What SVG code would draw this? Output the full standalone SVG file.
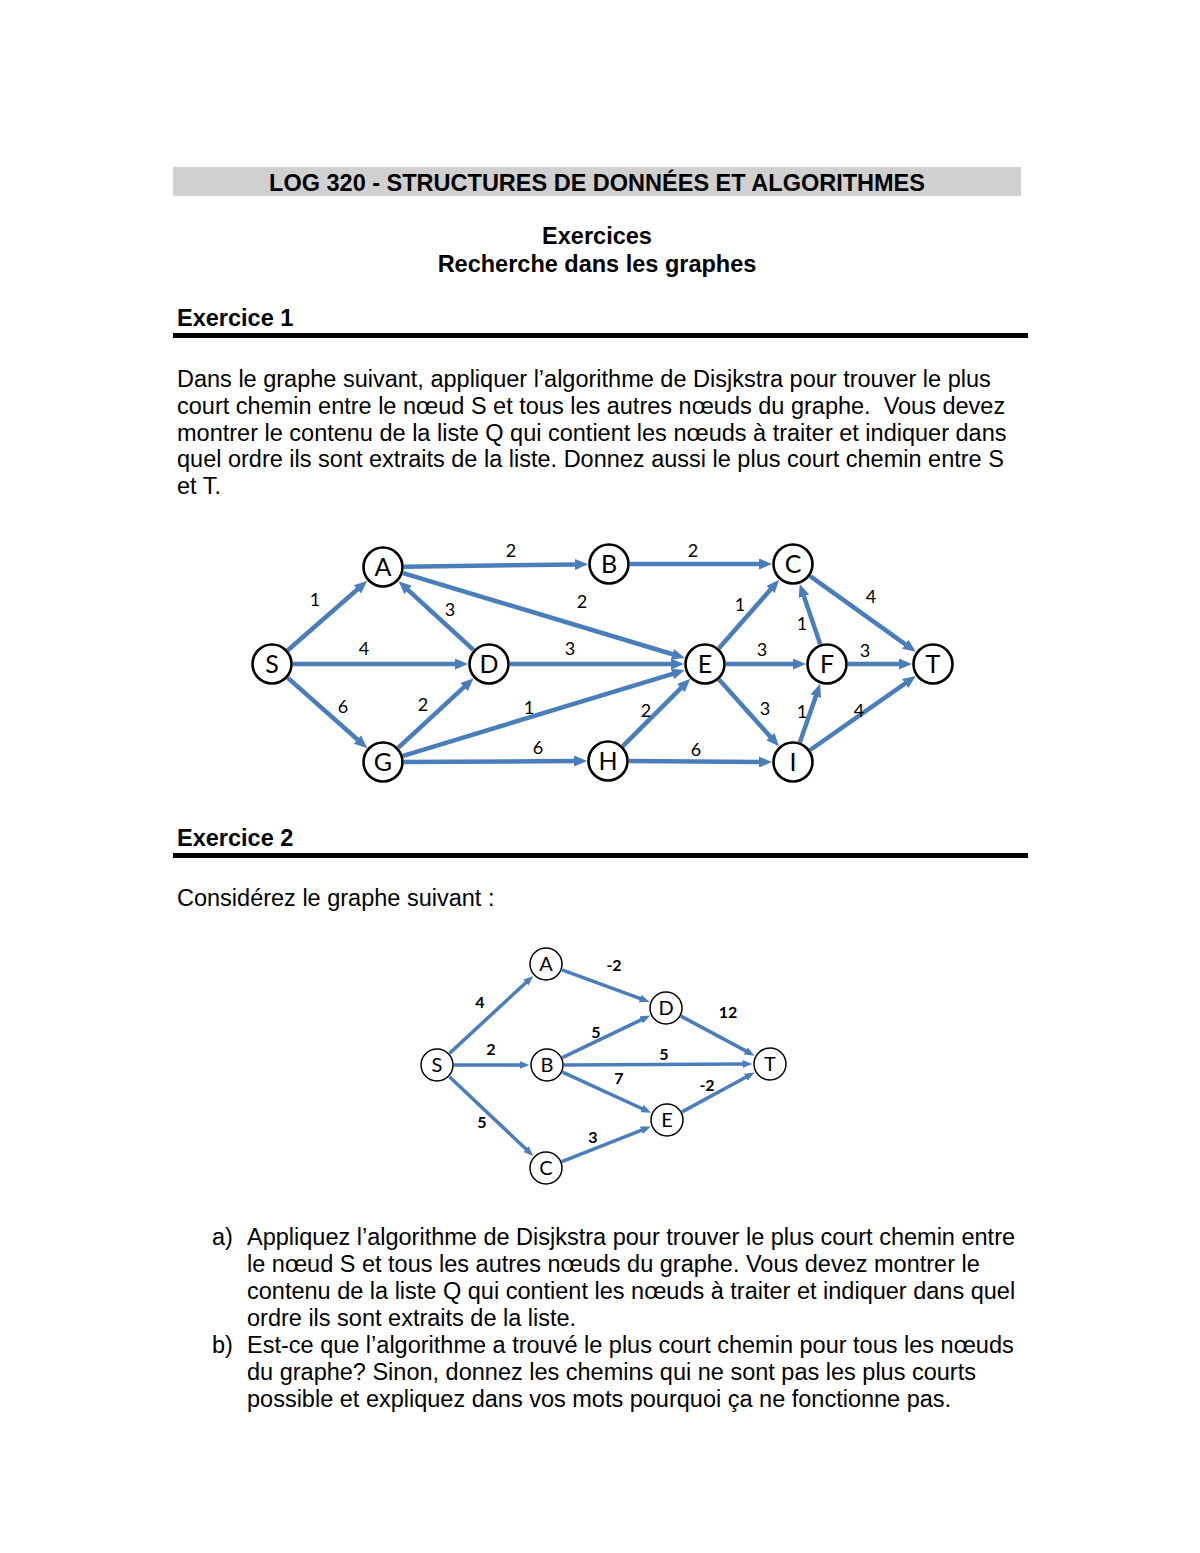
<svg xmlns="http://www.w3.org/2000/svg" width="1200" height="1553" viewBox="0 0 1200 1553">
<style>
.t{font-family:"Liberation Sans",Arial,sans-serif;font-size:23.5px;fill:#000;white-space:pre}
.b{font-weight:bold}
.e1{stroke:#4A7EBB;stroke-width:4.5;fill:none;marker-end:url(#ah1)}
.e2{stroke:#4A7EBB;stroke-width:3.5;fill:none;marker-end:url(#ah2)}
.n1{fill:#fff;stroke:#000;stroke-width:2.6}
.n2{fill:#fff;stroke:#000;stroke-width:1.5}
.nl1{font-family:Lato,"Open Sans",sans-serif;font-size:25px;text-anchor:middle;fill:#000}
.nl2{font-family:Lato,"Open Sans",sans-serif;font-size:20px;text-anchor:middle;fill:#000}
.w1{font-family:Lato,"Open Sans",sans-serif;font-size:18px;text-anchor:middle;fill:#000}
.w2{font-family:Lato,"Open Sans",sans-serif;font-size:16px;font-weight:bold;text-anchor:middle;fill:#000}
</style>
<defs>
<marker id="ah1" viewBox="0 0 13 11" markerWidth="13" markerHeight="11" refX="1" refY="5.5" orient="auto" markerUnits="userSpaceOnUse"><path d="M0,0 L13,5.5 L0,11 z" fill="#4A7EBB"/></marker>
<marker id="ah2" viewBox="0 0 10 8" markerWidth="10" markerHeight="8" refX="1" refY="4" orient="auto" markerUnits="userSpaceOnUse"><path d="M0,0 L10,4 L0,8 z" fill="#4A7EBB"/></marker>
</defs>
<rect width="1200" height="1553" fill="#fff"/>

<g id="header">
<rect x="173" y="167" width="848" height="29" fill="#D0D0D0"/>
<text class="t b" x="597" y="191" text-anchor="middle">LOG 320 - STRUCTURES DE DONNÉES ET ALGORITHMES</text>
<text class="t b" x="597" y="244" text-anchor="middle">Exercices</text>
<text class="t b" x="597" y="272" text-anchor="middle">Recherche dans les graphes</text>
<text class="t b" x="177" y="326">Exercice 1</text>
<rect x="173" y="333" width="855" height="5" fill="#000"/>
</g>

<g id="para1">
<text class="t" x="177" y="387">Dans le graphe suivant, appliquer l’algorithme de Disjkstra pour trouver le plus</text>
<text class="t" x="177" y="414">court chemin entre le nœud S et tous les autres nœuds du graphe.  Vous devez</text>
<text class="t" x="177" y="440.5">montrer le contenu de la liste Q qui contient les nœuds à traiter et indiquer dans</text>
<text class="t" x="177" y="467">quel ordre ils sont extraits de la liste. Donnez aussi le plus court chemin entre S</text>
<text class="t" x="177" y="494">et T.</text>
</g>

<g id="connectors1">
<path class="e1" d="M287.8,650.2 L358.2,588.7"/>
<path class="e1" d="M293,664 L456,664"/>
<path class="e1" d="M287.8,677.9 L358.3,740.2"/>
<path class="e1" d="M473.5,649.8 L407.4,589.3"/>
<path class="e1" d="M398.4,747.7 L464.8,686.4"/>
<path class="e1" d="M404,566.7 L576,564.4"/>
<path class="e1" d="M403.1,573.1 L673.4,654.5"/>
<path class="e1" d="M510,664 L672,664"/>
<path class="e1" d="M403.1,755.9 L673.4,673.6"/>
<path class="e1" d="M404,762 L575,761"/>
<path class="e1" d="M622.8,746.2 L681.7,687.3"/>
<path class="e1" d="M630,564 L760,564"/>
<path class="e1" d="M718.9,648.2 L771.2,588.8"/>
<path class="e1" d="M726,664 L794,664"/>
<path class="e1" d="M719,679.6 L771,737.4"/>
<path class="e1" d="M820.2,644.1 L803.6,595.3"/>
<path class="e1" d="M799.9,742.2 L816.2,695.2"/>
<path class="e1" d="M810.1,576.2 L906.1,644.8"/>
<path class="e1" d="M848,664 L900,664"/>
<path class="e1" d="M810.2,750 L906,682.9"/>
<path class="e1" d="M629,761 L760,762"/>
</g>

<g id="weights1">
<text class="w1" x="315" y="606">1</text>
<text class="w1" x="364" y="655">4</text>
<text class="w1" x="343" y="713">6</text>
<text class="w1" x="450" y="616">3</text>
<text class="w1" x="423" y="711">2</text>
<text class="w1" x="511" y="557">2</text>
<text class="w1" x="582" y="608">2</text>
<text class="w1" x="570" y="655">3</text>
<text class="w1" x="529" y="714">1</text>
<text class="w1" x="538" y="754">6</text>
<text class="w1" x="646" y="717">2</text>
<text class="w1" x="693" y="557">2</text>
<text class="w1" x="740" y="611">1</text>
<text class="w1" x="762" y="656">3</text>
<text class="w1" x="765" y="715">3</text>
<text class="w1" x="802" y="630">1</text>
<text class="w1" x="802" y="718">1</text>
<text class="w1" x="871" y="603">4</text>
<text class="w1" x="865" y="657">3</text>
<text class="w1" x="859" y="717">4</text>
<text class="w1" x="696" y="756">6</text>
</g>

<g id="g1-S"><circle class="n1" cx="272" cy="664" r="19.5"/><text class="nl1" x="272" y="673">S</text></g>
<g id="g1-A"><circle class="n1" cx="383" cy="567" r="19.5"/><text class="nl1" x="383" y="576">A</text></g>
<g id="g1-B"><circle class="n1" cx="609" cy="564" r="19.5"/><text class="nl1" x="609" y="573">B</text></g>
<g id="g1-C"><circle class="n1" cx="793" cy="564" r="19.5"/><text class="nl1" x="793" y="573">C</text></g>
<g id="g1-D"><circle class="n1" cx="489" cy="664" r="19.5"/><text class="nl1" x="489" y="673">D</text></g>
<g id="g1-E"><circle class="n1" cx="705" cy="664" r="19.5"/><text class="nl1" x="705" y="673">E</text></g>
<g id="g1-F"><circle class="n1" cx="827" cy="664" r="19.5"/><text class="nl1" x="827" y="673">F</text></g>
<g id="g1-T"><circle class="n1" cx="933" cy="664" r="19.5"/><text class="nl1" x="933" y="673">T</text></g>
<g id="g1-G"><circle class="n1" cx="383" cy="762" r="19.5"/><text class="nl1" x="383" y="771">G</text></g>
<g id="g1-H"><circle class="n1" cx="608" cy="761" r="19.5"/><text class="nl1" x="608" y="770">H</text></g>
<g id="g1-I"><circle class="n1" cx="793" cy="762" r="19.5"/><text class="nl1" x="793" y="771">I</text></g>

<g id="ex2head">
<text class="t b" x="177" y="846">Exercice 2</text>
<rect x="173" y="853" width="855" height="5" fill="#000"/>
<text class="t" x="177" y="906">Considérez le graphe suivant :</text>
</g>

<g id="connectors2">
<path class="e2" d="M449.5,1053.4 L526.6,982"/>
<path class="e2" d="M454,1065 L520.5,1065"/>
<path class="e2" d="M449.4,1076.7 L526.7,1149.8"/>
<path class="e2" d="M562,969.8 L641.1,998.9"/>
<path class="e2" d="M562.3,1057.7 L642.1,1019.4"/>
<path class="e2" d="M564,1065 L743.5,1064"/>
<path class="e2" d="M562.5,1072.1 L642.9,1109"/>
<path class="e2" d="M561.8,1161.7 L642.4,1129.8"/>
<path class="e2" d="M681,1016.1 L746.7,1051.4"/>
<path class="e2" d="M682,1111.9 L746.7,1076.7"/>
</g>

<g id="weights2">
<text class="w2" x="480" y="1008">4</text>
<text class="w2" x="491" y="1055">2</text>
<text class="w2" x="482" y="1128">5</text>
<text class="w2" x="614" y="971">-2</text>
<text class="w2" x="596" y="1038">5</text>
<text class="w2" x="664" y="1060">5</text>
<text class="w2" x="619" y="1084">7</text>
<text class="w2" x="593" y="1143">3</text>
<text class="w2" x="728" y="1018">12</text>
<text class="w2" x="707" y="1091">-2</text>
</g>

<g id="g2-S"><circle class="n2" cx="437" cy="1065" r="16"/><text class="nl2" x="437" y="1072">S</text></g>
<g id="g2-A"><circle class="n2" cx="546" cy="964" r="16"/><text class="nl2" x="546" y="971">A</text></g>
<g id="g2-B"><circle class="n2" cx="547" cy="1065" r="16"/><text class="nl2" x="547" y="1072">B</text></g>
<g id="g2-C"><circle class="n2" cx="546" cy="1168" r="16"/><text class="nl2" x="546" y="1175">C</text></g>
<g id="g2-D"><circle class="n2" cx="666" cy="1008" r="16"/><text class="nl2" x="666" y="1015">D</text></g>
<g id="g2-E"><circle class="n2" cx="667" cy="1120" r="16"/><text class="nl2" x="667" y="1127">E</text></g>
<g id="g2-T"><circle class="n2" cx="770" cy="1064" r="16"/><text class="nl2" x="770" y="1071">T</text></g>

<g id="questions">
<text class="t" x="212" y="1245">a)</text>
<text class="t" x="247" y="1245">Appliquez l’algorithme de Disjkstra pour trouver le plus court chemin entre</text>
<text class="t" x="247" y="1272">le nœud S et tous les autres nœuds du graphe. Vous devez montrer le</text>
<text class="t" x="247" y="1299">contenu de la liste Q qui contient les nœuds à traiter et indiquer dans quel</text>
<text class="t" x="247" y="1326">ordre ils sont extraits de la liste.</text>
<text class="t" x="212" y="1353">b)</text>
<text class="t" x="247" y="1353">Est-ce que l’algorithme a trouvé le plus court chemin pour tous les nœuds</text>
<text class="t" x="247" y="1380">du graphe? Sinon, donnez les chemins qui ne sont pas les plus courts</text>
<text class="t" x="247" y="1407">possible et expliquez dans vos mots pourquoi ça ne fonctionne pas.</text>
</g>
</svg>
